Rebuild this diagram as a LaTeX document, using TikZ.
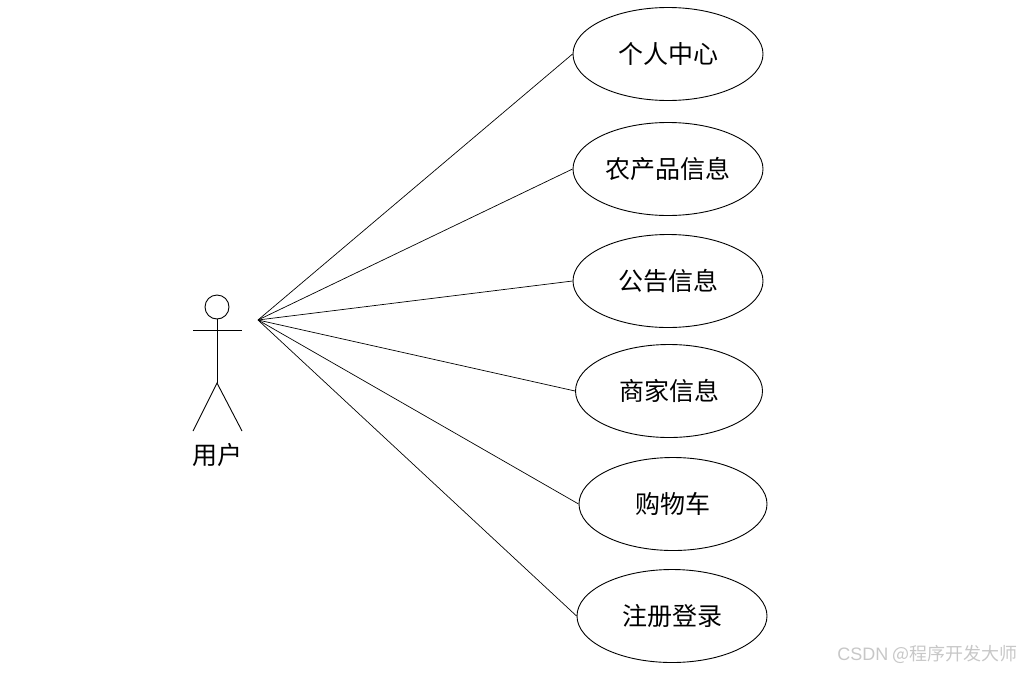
\documentclass[tikz,border=0pt]{standalone}
\usepackage{fontspec}
\setmainfont{Noto Sans CJK SC}
\newfontfamily\cjk{Noto Sans CJK SC}
\newfontfamily\wmfont{Liberation Sans}
\usetikzlibrary{shapes.geometric}
\begin{document}
\begin{tikzpicture}[x=1pt,y=-1pt,
  usecase/.style={ellipse,draw,line width=0.9pt,minimum width=190pt,minimum height=93pt,inner sep=0pt,font=\fontsize{25}{25}\selectfont\cjk},
  conn/.style={line width=0.7pt},
  actorline/.style={line width=0.9pt}]
\useasboundingbox (0,0) rectangle (1024,672);
% use cases
\node[usecase] (u1) at (668,54) {个人中心};
\node[usecase] (u2) at (668,169) {农产品信息};
\node[usecase] (u3) at (668,281) {公告信息};
\node[usecase,minimum width=187pt] (u4) at (669,391) {商家信息};
\node[usecase,minimum width=188pt] (u5) at (673,504) {购物车};
\node[usecase] (u6) at (672,616) {注册登录};
% actor
\node[circle,draw,actorline,minimum size=24pt,inner sep=0pt] (head) at (217,307) {};
\coordinate (hip) at (217,383);
\coordinate (armL) at (193,330);
\coordinate (armR) at (242,330);
\coordinate (legL) at (193,431);
\coordinate (legR) at (242,431);
\draw[actorline] (head.south) -- (hip);
\draw[actorline] (armL) -- (armR);
\draw[actorline] (legL) -- (hip) -- (legR);
\node[font=\fontsize{25}{25}\selectfont\cjk] (actorlabel) at (217,455) {用户};
\coordinate (hub) at (258,320);
% connectors
\foreach \u in {u1,u2,u3,u4,u5,u6}{
  \draw[conn] (hub) -- (\u.west);
}
% watermark
\node[anchor=east,text=black!22,font=\fontsize{18}{18}\selectfont] (wm) at (1021,654) {{\wmfont CSDN} @程序开发大师};
\end{tikzpicture}
\end{document}
